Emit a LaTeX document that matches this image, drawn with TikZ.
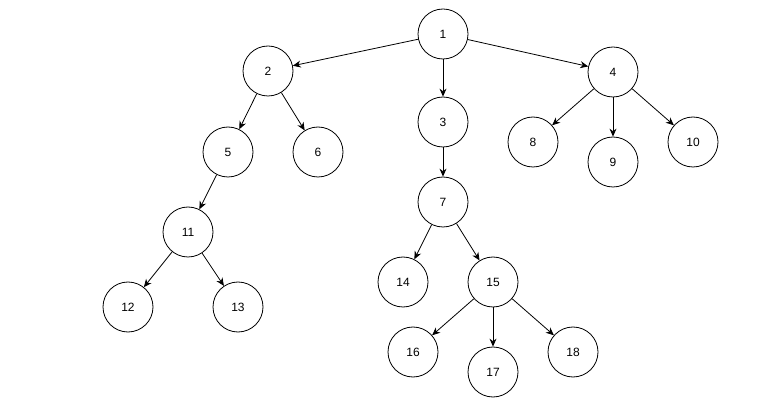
\documentclass[tikz,border=0pt]{standalone}
\usepackage{fontspec}
\setmainfont{Liberation Sans}
\usetikzlibrary{arrows.meta}
\begin{document}
\begin{tikzpicture}[x=1pt,y=-1pt,
  tnode/.style={circle,draw,line width=0.8pt,minimum size=50pt,inner sep=0pt,font=\fontsize{12}{14}\selectfont},
  edge/.style={-{Stealth[length=8pt,width=7pt]},line width=0.8pt}]
\useasboundingbox (0,0) rectangle (764,414);
\node[tnode] (n1) at (443,34) {1};
\node[tnode] (n2) at (268,71) {2};
\node[tnode] (n3) at (443,122) {3};
\node[tnode] (n4) at (613,72) {4};
\node[tnode] (n5) at (228,152) {5};
\node[tnode] (n6) at (318,152) {6};
\node[tnode] (n7) at (443,202) {7};
\node[tnode] (n8) at (533,142) {8};
\node[tnode] (n9) at (613,162) {9};
\node[tnode] (n10) at (693,142) {10};
\node[tnode] (n11) at (188,232) {11};
\node[tnode] (n12) at (128,307) {12};
\node[tnode] (n13) at (238,307) {13};
\node[tnode] (n14) at (403,282) {14};
\node[tnode] (n15) at (493,282) {15};
\node[tnode] (n16) at (413,352) {16};
\node[tnode] (n17) at (493,372) {17};
\node[tnode] (n18) at (573,352) {18};
\draw[edge] (n1) -- (n2);
\draw[edge] (n1) -- (n3);
\draw[edge] (n1) -- (n4);
\draw[edge] (n2) -- (n5);
\draw[edge] (n2) -- (n6);
\draw[edge] (n3) -- (n7);
\draw[edge] (n4) -- (n8);
\draw[edge] (n4) -- (n9);
\draw[edge] (n4) -- (n10);
\draw[edge] (n5) -- (n11);
\draw[edge] (n11) -- (n12);
\draw[edge] (n11) -- (n13);
\draw[edge] (n7) -- (n14);
\draw[edge] (n7) -- (n15);
\draw[edge] (n15) -- (n16);
\draw[edge] (n15) -- (n17);
\draw[edge] (n15) -- (n18);
\end{tikzpicture}
\end{document}
